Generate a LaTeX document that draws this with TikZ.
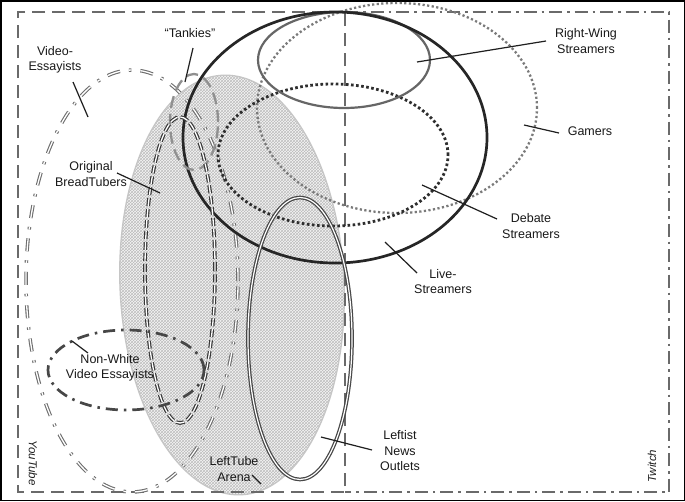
\documentclass[tikz,border=0pt]{standalone}
\usepackage{fontspec}
\setmainfont{Liberation Sans}
\usetikzlibrary{patterns}
\definecolor{frameg}{HTML}{6A6A6A}
\definecolor{darkl}{HTML}{262626}
\definecolor{midg}{HTML}{666666}
\definecolor{lightg}{HTML}{7A7A7A}
\definecolor{vecol}{HTML}{6E6E6E}
\definecolor{tankg}{HTML}{909090}
\definecolor{fillb}{HTML}{BDBDBD}
\tikzset{
  lbl/.style={font=\fontsize{12.5}{15.5}\selectfont, align=center, text=black!90, inner sep=0pt},
  sidelbl/.style={font=\fontsize{11.5}{13}\selectfont\itshape, text=black!88, inner sep=0pt},
  leader/.style={line width=1.2pt, black!88},
  ytbox/.style={frameg, line width=2.2pt, dash pattern=on 13pt off 7pt},
  twbox/.style={frameg, line width=2.2pt, dash pattern=on 13pt off 5pt on 2.5pt off 5pt},
  livest/.style={darkl, line width=2.7pt},
  rwst/.style={midg, line width=2.2pt},
  gamst/.style={lightg, line width=2.3pt, dash pattern=on 2.2pt off 2.4pt},
  debst/.style={black!82, line width=2.8pt, dash pattern=on 2.6pt off 2.5pt},
  vest/.style={vecol, line width=1.1pt, double=white, double distance=1.3pt, dash pattern=on 13pt off 9pt on 2.5pt off 9pt},
  obst/.style={black!78, line width=1.2pt, double=white, double distance=1.3pt, dash pattern=on 8pt off 3pt},
  tankst/.style={tankg, line width=2.3pt, dash pattern=on 12pt off 6pt},
  nwst/.style={black!72, line width=2.7pt, dash pattern=on 12pt off 6pt on 2.5pt off 6pt},
  lnost/.style={black!72, line width=1.25pt, double=white, double distance=1.2pt},
}
\begin{document}
\begin{tikzpicture}[x=1pt,y=-1pt]
\useasboundingbox (0,0) rectangle (685,501);
\fill[white] (0,0) rectangle (685,501);
% LeftTube Arena
\fill[gray!7, rotate around={2.5:(232,285)}] (232,285) ellipse [x radius=112pt, y radius=210pt];
\path[pattern=crosshatch, pattern color=fillb, rotate around={2.5:(232,285)}] (232,285) ellipse [x radius=112pt, y radius=210pt];
\draw[gray!45, line width=1.3pt, rotate around={2.5:(232,285)}] (232,285) ellipse [x radius=112pt, y radius=210pt];
% boxes
\draw[ytbox] (345,12) -- (18,12) -- (18,492) -- (345,492) -- cycle;
\draw[twbox] (345,12) -- (669,12) -- (669,492) -- (345,492);
% outer frame
\draw[black, line width=1.5pt] (0.75,0.75) rectangle (684.25,500.25);
% ellipses
\draw[vest] (132,281) ellipse [x radius=106pt, y radius=211pt];
\draw[gamst] (397,108) ellipse [x radius=140pt, y radius=105pt];
\draw[debst] (333,155) ellipse [x radius=115pt, y radius=71pt];
\draw[rwst] (344,60) ellipse [x radius=86pt, y radius=48pt];
\draw[livest] (335,137.5) ellipse [x radius=152pt, y radius=125.5pt];
\draw[tankst] (194,122) ellipse [x radius=24pt, y radius=48pt];
\draw[obst] (180,270) ellipse [x radius=35pt, y radius=153pt];
\draw[nwst] (126,370) ellipse [x radius=78pt, y radius=40pt];
\draw[lnost] (300,338.5) ellipse [x radius=52pt, y radius=141pt];
% labels
\node[lbl] (ve) at (55,60) {Video-\\Essayists};
\node[lbl] (tk) at (190,33) {“Tankies”};
\node[lbl] (ob) at (91,174) {Original\\BreadTubers};
\node[lbl] (nw) at (110,368) {Non-White\\Video Essayists};
\node[lbl] (lta) at (234,469) {LeftTube\\Arena};
\node[lbl] (lno) at (400,451) {Leftist\\News\\Outlets};
\node[lbl] (ls) at (443,281.5) {Live-\\Streamers};
\node[lbl] (ds) at (531,226) {Debate\\Streamers};
\node[lbl] (gm) at (590,131) {Gamers};
\node[lbl] (rw) at (586,41) {Right-Wing\\Streamers};
\node[sidelbl, rotate=-90] (yt) at (33,463) {YouTube};
\node[sidelbl, rotate=90] (tw) at (652,466) {Twitch};
% leaders
\coordinate (ve1) at (73,82);   \coordinate (ve2) at (88,117);
\coordinate (tk1) at (193,48);  \coordinate (tk2) at (185,82);
\coordinate (ob1) at (117,173); \coordinate (ob2) at (160,193);
\coordinate (nw1) at (72,341);  \coordinate (nw2) at (88,353);
\coordinate (lt1) at (252,475); \coordinate (lt2) at (261,484);
\coordinate (ln1) at (321,437); \coordinate (ln2) at (372,450);
\coordinate (ls1) at (385,242); \coordinate (ls2) at (417,273);
\coordinate (ds1) at (422,185); \coordinate (ds2) at (497,219);
\coordinate (gm1) at (524,125); \coordinate (gm2) at (559,133);
\coordinate (rw1) at (417,62);  \coordinate (rw2) at (546,41);
\draw[leader] (ve1) -- (ve2);
\draw[leader] (tk1) -- (tk2);
\draw[leader] (ob1) -- (ob2);
\draw[leader] (nw1) -- (nw2);
\draw[leader] (lt1) -- (lt2);
\draw[leader] (ln1) -- (ln2);
\draw[leader] (ls1) -- (ls2);
\draw[leader] (ds1) -- (ds2);
\draw[leader] (gm1) -- (gm2);
\draw[leader] (rw1) -- (rw2);
\end{tikzpicture}
\end{document}
